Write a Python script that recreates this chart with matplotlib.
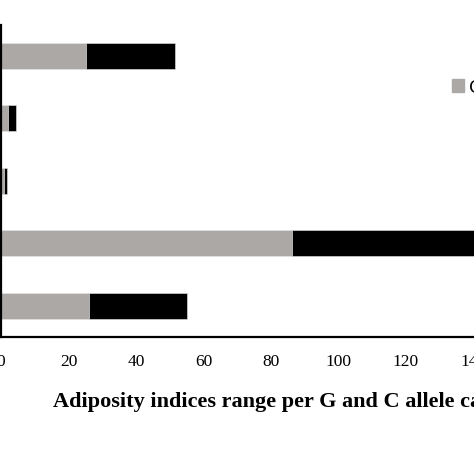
import matplotlib
matplotlib.use("Agg")
import matplotlib.pyplot as plt
from matplotlib.patches import Patch

# data, listed top bar to bottom bar
categories = ["Body fat (%)", "Conicity index", "WHR", "WC (cm)", "BMI (kg/m2)"]
c_allele = [25.2, 2.2, 0.8, 86.2, 26.2]
g_allele = [26.4, 2.3, 0.85, 80.0, 28.9]
xticks = [0, 20, 40, 60, 80, 100, 120, 140, 160]

gray = "#aba8a6"
black = "#000000"

fig = plt.figure(figsize=(4.74, 4.74), dpi=100)
W = H = 474.0
# chart is cropped: axes runs off the right edge of the figure
ax = fig.add_axes([1 / W, 1 - 337 / H, 540 / W, 312.5 / H])

ax.barh(categories, c_allele, height=0.41, color=gray, edgecolor="#e6e6e6", linewidth=0.4, label="C allele carriers")
ax.barh(categories, g_allele, left=c_allele, height=0.41, color=black, edgecolor="#e6e6e6", linewidth=0.4, label="G allele carriers")

ax.set_xlim(0, 160)
ax.set_ylim(4.5, -0.5)
ax.set_xticks(xticks)
ax.set_xticklabels([str(t) for t in xticks], fontfamily="Liberation Serif", fontsize=12.5)
ax.set_yticks([])
ax.tick_params(axis="x", length=0, pad=12)

for s in ["top", "right"]:
    ax.spines[s].set_visible(False)
ax.spines["left"].set_linewidth(1.6)
ax.spines["bottom"].set_linewidth(1.6)

ax.set_xlabel("Adiposity indices range per G and C allele carriers", fontfamily="Liberation Serif",
              fontweight="bold", fontsize=16, ha="left", va="center")
ax.xaxis.set_label_coords(53 / W, 1 - 402 / H, transform=fig.transFigure)

handles = [Patch(color=gray), Patch(color=black)]
fig.legend(handles, ["C allele carriers", "G allele carriers"], ncol=2, frameon=False,
           loc="center left", bbox_to_anchor=(452 / W, 1 - 88 / H), borderpad=0, borderaxespad=0,
           handlelength=0.6, handleheight=0.6, handletextpad=0.25,
           prop={"family": "Liberation Sans", "size": 14})

fig.savefig("out.png", dpi=100)
